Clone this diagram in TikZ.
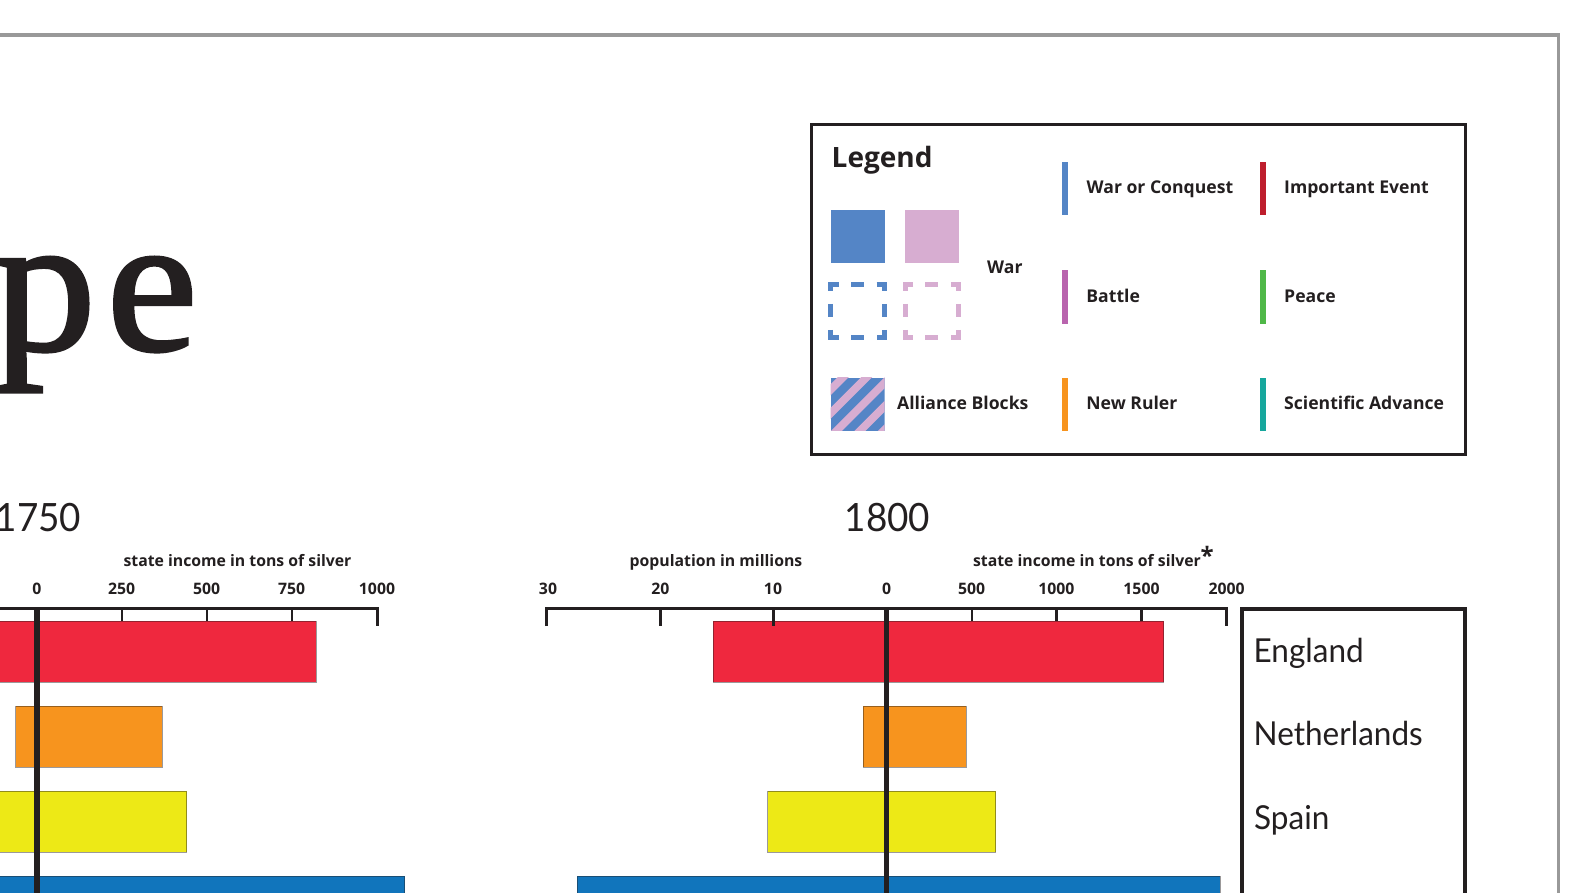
\documentclass[tikz,border=0pt]{standalone}
\usepackage{fontspec}
\setmainfont{Open Sans}
\newfontfamily\serifface{Liberation Serif}[FakeBold=1.7,FakeStretch=1.04]
\newfontfamily\lightface{Lato}[FakeStretch=0.955]
\newfontfamily\yearface{Lato}[FakeStretch=0.945]
\definecolor{inkblack}{HTML}{231F20}
\definecolor{framegray}{HTML}{999999}
\definecolor{warblue}{HTML}{5485C6}
\definecolor{warpink}{HTML}{D7ADD1}
\definecolor{evred}{HTML}{BE1E2D}
\definecolor{evpurple}{HTML}{B964AE}
\definecolor{evgreen}{HTML}{4FB848}
\definecolor{evorange}{HTML}{F7941E}
\definecolor{evteal}{HTML}{16A79D}
\definecolor{barred}{HTML}{EF283E}
\definecolor{barorange}{HTML}{F7941E}
\definecolor{baryellow}{HTML}{EDE916}
\definecolor{barblue}{HTML}{1175BC}
\tikzset{
 smalllabel/.style={font=\fontsize{15.8}{18}\selectfont\bfseries, text=inkblack, anchor=base, inner sep=0pt},
 ticklabel/.style={font=\fontsize{15.8}{18}\selectfont\bfseries, text=inkblack, anchor=base, inner sep=0pt},
 legendtext/.style={font=\fontsize{17.6}{20}\selectfont\bfseries, text=inkblack, anchor=base west, inner sep=0pt},
 yearlabel/.style={font=\yearface\fontsize{39}{44}\selectfont, text=inkblack, anchor=base, inner sep=0pt},
 countrylabel/.style={font=\lightface\fontsize{33}{38}\selectfont, text=inkblack, anchor=base west, inner sep=0pt},
 axisline/.style={draw=inkblack, line width=3pt},
 tickline/.style={draw=inkblack, line width=2.4pt},
 zeroline/.style={draw=inkblack, line width=5.5pt},
 databar/.style={draw=inkblack, draw opacity=.45, line width=.8pt},
}
\begin{document}
\begin{tikzpicture}[x=1pt,y=-1pt]
\useasboundingbox (0,0) rectangle (1588,893);
\clip (0,0) rectangle (1588,893);
\fill[white] (0,0) rectangle (1588,893);
% page frame
\draw[framegray, line width=3.5pt] (-5,35) -- (1558.5,35) -- (1558.5,900);
% title fragment
\node[font=\serifface\fontsize{197}{197}\selectfont, text=inkblack, anchor=base east, inner sep=0pt] (title) at (198,350) {p\kern 11pt e};
% legend
\node[draw=inkblack, line width=3pt, minimum width=654pt, minimum height=330pt, anchor=north west, inner sep=0pt, outer sep=0pt] (legendbox) at (811,124.7) {};
\node[font=\fontsize{28}{32}\selectfont\bfseries, text=inkblack, anchor=base west, inner sep=0pt] (legendtitle) at (831.5,167.5) {Legend};
\fill[warblue] (830.7,209.8) rectangle (884.7,263);
\fill[warpink] (905,209.8) rectangle (959,263);
\foreach \dx/\col in {0/warblue,74.3/warpink}{
 \begin{scope}[xshift=\dx pt]
 \draw[\col, line width=5pt, line cap=butt] (838.7,284.2) -- (830.8,284.2) -- (830.8,291);
 \draw[\col, line width=5pt] (851,284.2) -- (864,284.2);
 \draw[\col, line width=5pt] (876.5,284.2) -- (884.5,284.2) -- (884.5,291);
 \draw[\col, line width=5pt] (830.8,304) -- (830.8,317);
 \draw[\col, line width=5pt] (884.5,304) -- (884.5,317);
 \draw[\col, line width=5pt] (830.8,330) -- (830.8,337.5) -- (838.7,337.5);
 \draw[\col, line width=5pt] (851,337.5) -- (864,337.5);
 \draw[\col, line width=5pt] (884.5,330) -- (884.5,337.5) -- (876.5,337.5);
 \end{scope}
}
\begin{scope}
 \clip (830.7,377.7) rectangle (884.7,430.7);
 \fill[warblue] (830.7,377.7) rectangle (884.7,430.7);
 \foreach \k in {0,1,2,3,4,5}{
  \draw[warpink, line width=7.8pt] (842.7+\k*23.5,377.7) ++(-80,80) -- ++(120,-120);
 }
\end{scope}
\node[legendtext] (lwar) at (987,273.5) {War};
\node[legendtext] (lall) at (897,409) {Alliance Blocks};
\fill[warblue] (1062,161.7) rectangle (1067.5,215);
\fill[evpurple] (1062,270.3) rectangle (1067.5,324);
\fill[evorange] (1062,377.7) rectangle (1067.5,431);
\fill[evred] (1260.3,161.7) rectangle (1265.7,215);
\fill[evgreen] (1260.3,270.3) rectangle (1265.7,324);
\fill[evteal] (1260.3,377.7) rectangle (1265.7,431);
\node[legendtext] (l1) at (1086.5,193.5) {War or Conquest};
\node[legendtext] (l2) at (1086.2,302.5) {Battle};
\node[legendtext] (l3) at (1086.2,409) {New Ruler};
\node[legendtext] (l4) at (1284,193.5) {Important Event};
\node[legendtext] (l5) at (1284,302.5) {Peace};
\node[legendtext] (l6) at (1284,409) {Scientific Advance};
% years
\node[yearlabel] (y1750) at (38.5,531) {1750};
\node[yearlabel] (y1800) at (887.5,531) {1800};
% chart 1750
\draw[tickline] (121.7,608) -- (121.7,622);
\draw[tickline] (206.7,608) -- (206.7,622);
\draw[tickline] (291.7,608) -- (291.7,622);
\fill[barred,databar] (-5,621) rectangle (316,682.3);
\fill[barorange,databar] (15.7,706) rectangle (162.3,767.3);
\fill[baryellow,databar] (-5,791) rectangle (186.7,852.3);
\fill[barblue,databar] (-5,876) rectangle (404.7,900);
\draw[axisline] (-5,608.7) -- (377,608.7) -- (377,626);
\draw[zeroline] (37,607) -- (37,900);
\node[smalllabel] (inc1750) at (237.5,566.8) {state income in tons of silver};
\foreach \x/\t in {37/0,121.7/250,206.7/500,291.7/750,377/1000}
 \node[ticklabel] at (\x,594.7) {\t};
% chart 1800
\draw[tickline] (971.7,608) -- (971.7,622);
\draw[tickline] (1056.4,608) -- (1056.4,622);
\draw[tickline] (1141.5,608) -- (1141.5,622);
\fill[barred,databar] (713.3,621) rectangle (1163.7,682.3);
\fill[barorange,databar] (863,706) rectangle (966,767.3);
\fill[baryellow,databar] (767.7,791) rectangle (995.6,852.3);
\fill[barblue,databar] (577.3,876) rectangle (1220.4,900);
\draw[axisline] (546.7,626) -- (546.7,608.7) -- (1226.7,608.7) -- (1226.7,626);
\draw[tickline] (660.3,608) -- (660.3,626);
\draw[tickline] (773.3,608) -- (773.3,626);
\draw[zeroline] (886.7,607) -- (886.7,900);
\node[smalllabel] (pop1800) at (716,566.8) {population in millions};
\node[smalllabel] (inc1800) at (1087,566.8) {state income in tons of silver};
\node[font=\fontsize{24}{24}\selectfont\bfseries, text=inkblack, anchor=base west, inner sep=0pt] (star) at (1200.5,564) {*};
\foreach \x/\t in {548/30,660.3/20,773/10,886.7/0,971.7/500,1056.4/1000,1141.5/1500,1226.7/2000}
 \node[ticklabel] at (\x,594.7) {\t};
% country box
\draw[draw=inkblack, line width=3.8pt] (1241.7,900) -- (1241.7,609.3) -- (1465,609.3) -- (1465,900);
\node[countrylabel] (en) at (1253.5,662.5) {England};
\node[countrylabel] (ne) at (1253.5,745.5) {Netherlands};
\node[countrylabel] (sp) at (1254,829.5) {Spain};
\end{tikzpicture}
\end{document}
